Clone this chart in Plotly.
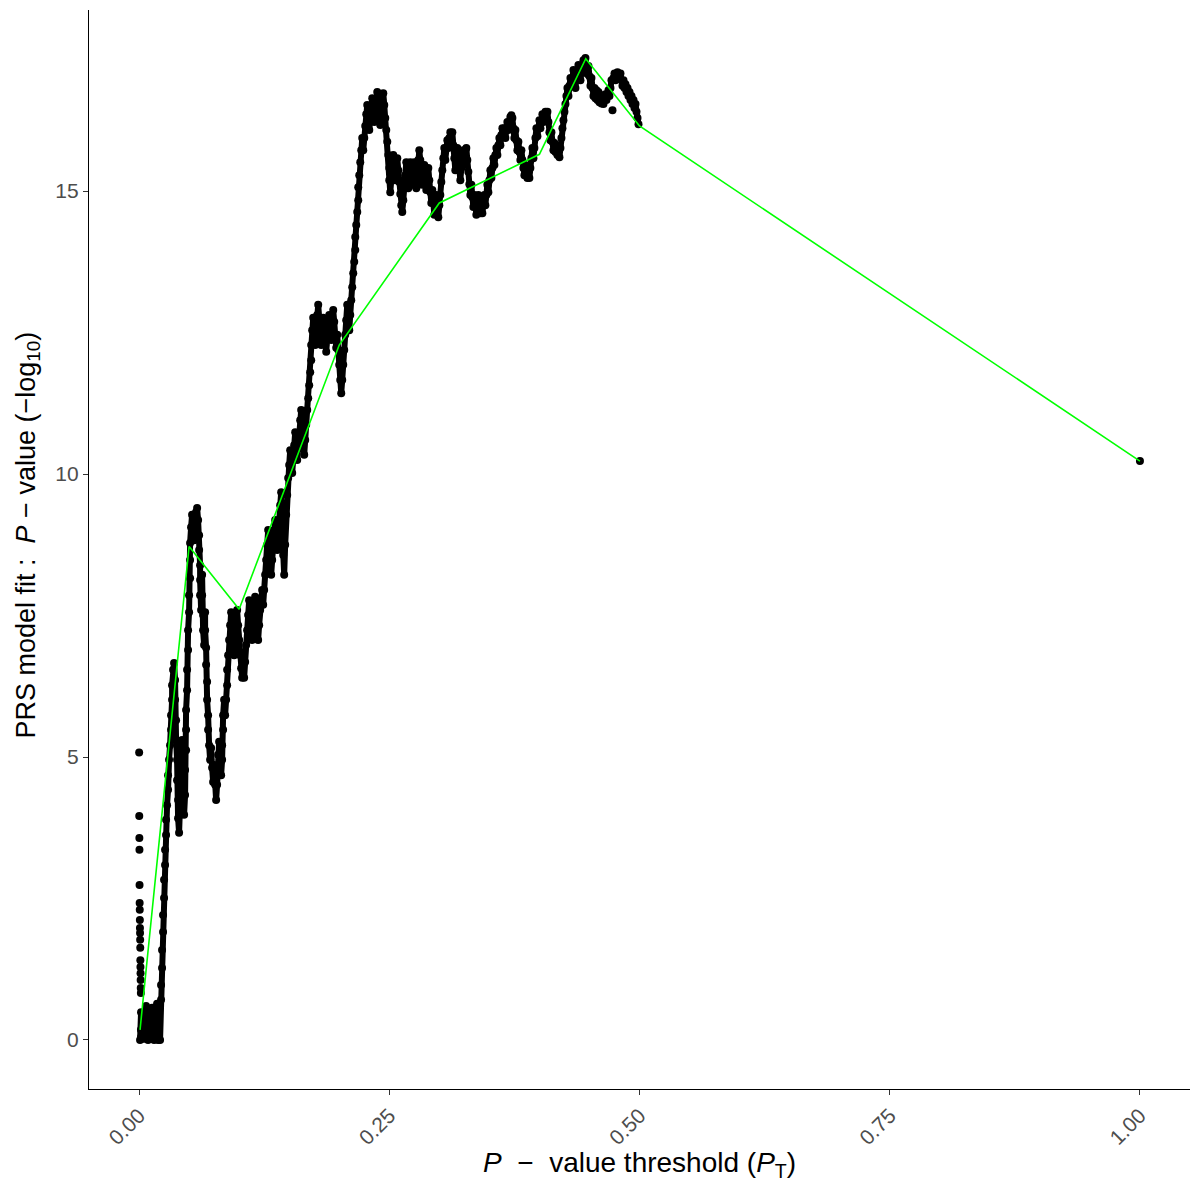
import plotly.graph_objects as go

# ---- high-resolution PRS scan (dense cloud) ----
cloud_x = [
    0.001, 0.002, 0.003, 0.005, 0.006, 0.007, 0.009, 0.010, 0.012, 0.013, 0.015, 0.016, 0.017, 0.018, 0.019, 0.020, 0.021, 0.022,
    0.022, 0.023, 0.023, 0.024, 0.024, 0.025, 0.025, 0.026, 0.026, 0.027, 0.027, 0.028, 0.029, 0.029, 0.030, 0.031, 0.032, 0.032, 0.033, 0.033, 0.034, 0.035,
    0.036, 0.036, 0.037, 0.037, 0.038, 0.038, 0.039, 0.039, 0.040, 0.041, 0.041, 0.042, 0.042, 0.043, 0.043, 0.044, 0.044, 0.045, 0.046, 0.046,
    0.047, 0.047, 0.047, 0.048, 0.048, 0.049, 0.049, 0.050, 0.050, 0.051, 0.051, 0.051, 0.052, 0.053, 0.054, 0.055, 0.056, 0.057, 0.058, 0.059,
    0.060, 0.060, 0.061, 0.061, 0.061, 0.062, 0.062, 0.063, 0.063, 0.064, 0.064, 0.065, 0.065, 0.066, 0.066, 0.067, 0.067, 0.068, 0.068, 0.069,
    0.069, 0.070, 0.071, 0.072, 0.073, 0.074, 0.075, 0.076, 0.077, 0.078, 0.079, 0.079, 0.080, 0.081, 0.082, 0.083, 0.083, 0.084, 0.084, 0.085,
    0.086, 0.087, 0.088, 0.088, 0.089, 0.090, 0.091, 0.092, 0.093, 0.094, 0.095, 0.096, 0.097, 0.098, 0.099, 0.100, 0.101, 0.102, 0.103, 0.104,
    0.105, 0.106, 0.107, 0.108, 0.109, 0.110, 0.111, 0.112, 0.113, 0.114, 0.115, 0.116, 0.117, 0.118, 0.119, 0.120, 0.121, 0.122, 0.123, 0.124,
    0.125, 0.126, 0.127, 0.128, 0.129, 0.130, 0.131, 0.132, 0.133, 0.134, 0.135, 0.136, 0.137, 0.138, 0.139, 0.140, 0.141, 0.142, 0.143, 0.144,
    0.145, 0.146, 0.147, 0.148, 0.149,
    0.150, 0.151, 0.152, 0.153, 0.154, 0.155, 0.156, 0.157, 0.158, 0.159, 0.160, 0.161, 0.162, 0.163, 0.164, 0.165, 0.166, 0.167, 0.168, 0.169,
    0.170, 0.171, 0.172, 0.172, 0.173, 0.174, 0.175, 0.176, 0.177, 0.178, 0.179, 0.180, 0.181, 0.182, 0.183, 0.184, 0.185, 0.186, 0.187, 0.188,
    0.189, 0.190, 0.191, 0.192, 0.193, 0.194, 0.195, 0.196, 0.197, 0.198, 0.199, 0.200, 0.201, 0.202, 0.203, 0.204, 0.205, 0.206, 0.207, 0.208,
    0.209, 0.210, 0.211, 0.212, 0.213, 0.214, 0.215, 0.216, 0.216, 0.217, 0.218, 0.219, 0.219, 0.220, 0.221, 0.222, 0.223, 0.224, 0.225, 0.226,
    0.227, 0.228, 0.229, 0.230, 0.231, 0.232, 0.233, 0.234, 0.235, 0.236, 0.237, 0.238, 0.239, 0.240, 0.241, 0.242, 0.243, 0.244, 0.245, 0.246,
    0.247, 0.248, 0.249, 0.250, 0.250, 0.251, 0.252, 0.253, 0.254, 0.255, 0.256, 0.257, 0.258, 0.259, 0.260, 0.261, 0.262, 0.263, 0.264, 0.265,
    0.266, 0.267, 0.268, 0.269, 0.270, 0.271, 0.272, 0.273, 0.274, 0.275, 0.276, 0.277, 0.278, 0.279, 0.280, 0.281, 0.282, 0.283, 0.284, 0.285,
    0.286, 0.287, 0.288, 0.289, 0.290, 0.291, 0.292, 0.293, 0.294, 0.295, 0.296, 0.297, 0.298, 0.299, 0.300, 0.301, 0.302, 0.303, 0.304, 0.305,
    0.306, 0.307, 0.308, 0.309, 0.310, 0.311, 0.312, 0.313, 0.314, 0.315, 0.316, 0.317, 0.318, 0.319, 0.320, 0.321, 0.322, 0.323, 0.324, 0.325,
    0.326, 0.327, 0.328, 0.329, 0.330, 0.331, 0.332, 0.333, 0.334, 0.335, 0.336, 0.337, 0.338, 0.339, 0.340, 0.341, 0.342, 0.343, 0.344, 0.345,
    0.346, 0.347, 0.348, 0.349, 0.350, 0.351, 0.352, 0.353, 0.354, 0.355, 0.356, 0.357, 0.358, 0.359, 0.360, 0.361, 0.362, 0.363, 0.364, 0.365,
    0.366, 0.367, 0.368, 0.369, 0.370, 0.371, 0.372, 0.373, 0.374, 0.375, 0.376, 0.377, 0.378, 0.379, 0.380, 0.381, 0.382, 0.383, 0.384, 0.385,
    0.386, 0.387, 0.388, 0.389, 0.390, 0.391, 0.392, 0.393, 0.394, 0.395, 0.396, 0.397, 0.398, 0.399, 0.400, 0.401, 0.402, 0.403, 0.404, 0.405,
    0.406, 0.407, 0.408, 0.409, 0.410, 0.411, 0.412, 0.413, 0.414, 0.415, 0.416, 0.417, 0.418, 0.419, 0.420, 0.421, 0.422, 0.423, 0.424, 0.425,
    0.426, 0.427, 0.428, 0.429, 0.430, 0.431, 0.432, 0.433, 0.434, 0.435, 0.436, 0.437, 0.438, 0.439, 0.440, 0.441, 0.442, 0.443, 0.444, 0.445,
    0.446, 0.447, 0.448, 0.449, 0.450, 0.451, 0.452, 0.453, 0.454, 0.455, 0.456, 0.457, 0.458, 0.459, 0.460, 0.461, 0.462, 0.463, 0.464, 0.465,
    0.466, 0.467, 0.468, 0.469, 0.470, 0.471, 0.472, 0.474, 0.475, 0.476, 0.477, 0.478, 0.479, 0.480, 0.481, 0.482, 0.483, 0.484, 0.485, 0.486,
    0.487, 0.488, 0.489, 0.490, 0.491, 0.492, 0.493, 0.494, 0.495, 0.496, 0.497, 0.498, 0.499,
]
cloud_y = [
    0.00, 0.49, 0.02, 0.39, 0.02, 0.60, 0.00, 0.44, 0.02, 0.57, 0.00, 0.35, 0.02, 0.64, 0.00, 0.53, 0.00, 0.71,
    0.97, 1.27, 1.59, 1.91, 2.21, 2.51, 2.83, 3.09, 3.36, 3.62, 3.89, 4.15, 4.42, 4.68, 4.95, 5.21, 5.48, 5.74, 6.01, 6.27, 6.54, 6.66,
    6.36, 6.01, 5.65, 5.30, 4.95, 4.59, 4.24, 3.92, 3.66, 3.98, 4.33, 4.68, 5.04, 5.30, 4.95, 4.59, 4.24, 3.98, 4.33, 4.77,
    5.12, 5.48, 5.83, 6.18, 6.54, 6.89, 7.24, 7.56, 7.86, 8.16, 8.48, 8.78, 9.06, 9.28, 9.10, 8.83, 9.10, 9.33, 9.40, 9.19,
    8.92, 8.66, 8.39, 8.13, 7.86, 7.60, 7.86, 8.22, 7.86, 7.51, 7.24, 6.98, 7.24, 7.56, 7.24, 6.93, 6.63, 6.33, 6.01, 5.74,
    5.48, 5.21, 4.95, 5.16, 4.81, 4.56, 4.86, 4.51, 4.24, 4.51, 4.77, 5.04, 5.27, 4.95, 4.68, 4.95, 5.21, 5.48, 5.74, 6.01,
    5.74, 6.01, 6.27, 6.54, 6.80, 7.07, 7.33, 7.56, 7.33, 7.07, 6.80, 7.07, 7.33, 7.60, 7.33, 7.07, 6.80, 6.57, 6.40, 6.63,
    6.40, 6.68, 6.98, 7.24, 7.51, 7.77, 7.56, 7.28, 7.07, 7.33, 7.60, 7.83, 7.56, 7.28, 7.07, 7.33, 7.60, 7.81, 7.95, 7.69,
    7.95, 8.22, 8.48, 8.75, 9.01, 8.75, 8.48, 8.22, 8.48, 8.75, 9.01, 9.19, 8.92, 8.66, 8.92, 9.19, 9.45, 9.68, 9.01, 8.57,
    8.22, 8.75, 9.28, 9.63, 9.93,
    10.16, 10.42, 10.16, 10.02, 10.25, 10.51, 10.74, 10.51, 10.25, 10.46, 10.69, 10.95, 11.13, 10.87, 10.60, 10.34, 10.60, 10.87, 11.13, 11.34,
    11.57, 11.80, 12.01, 12.28, 12.54, 12.76, 12.54, 12.28, 12.54, 12.81, 12.99, 12.76, 12.51, 12.28, 12.54, 12.76, 12.54, 12.28, 12.16, 12.40,
    12.63, 12.81, 12.58, 12.37, 12.63, 12.90, 12.69, 12.46, 12.23, 12.46, 12.19, 11.93, 11.66, 11.43, 11.66, 11.93, 12.19, 12.46, 12.72, 12.99,
    12.76, 12.54, 12.81, 13.07, 13.30, 13.55, 13.75, 13.96, 14.19, 14.40, 14.63, 14.84, 15.07, 15.28, 15.51, 15.72, 15.94, 15.72, 15.94, 16.15,
    16.36, 16.52, 16.29, 16.08, 16.25, 16.47, 16.64, 16.43, 16.22, 16.40, 16.61, 16.75, 16.61, 16.40, 16.17, 16.40, 16.61, 16.73, 16.52, 16.29,
    16.08, 15.87, 15.64, 15.41, 15.19, 14.98, 15.19, 15.41, 15.64, 15.41, 15.19, 15.37, 15.58, 15.37, 15.16, 14.95, 14.75, 14.63, 14.84, 15.05,
    15.28, 15.51, 15.28, 15.05, 15.28, 15.51, 15.28, 15.11, 15.34, 15.51, 15.28, 15.05, 15.28, 15.55, 15.72, 15.55, 15.34, 15.11, 15.28, 15.46,
    15.23, 15.02, 15.23, 15.41, 15.19, 14.98, 14.79, 15.02, 14.79, 14.58, 14.75, 14.93, 14.70, 14.54, 14.75, 14.93, 15.16, 15.37, 15.58, 15.76,
    15.55, 15.76, 15.90, 15.76, 15.94, 16.04, 15.90, 16.04, 15.81, 15.58, 15.37, 15.55, 15.76, 15.58, 15.37, 15.19, 15.41, 15.58, 15.72, 15.51,
    15.72, 15.76, 15.55, 15.34, 15.12, 14.93, 15.11, 14.89, 14.72, 14.93, 14.75, 14.58, 14.75, 14.93, 14.75, 14.61, 14.84, 14.61, 14.75, 14.93,
    14.75, 14.93, 15.11, 14.98, 15.19, 15.37, 15.23, 15.41, 15.58, 15.46, 15.64, 15.76, 15.64, 15.81, 15.94, 15.81, 15.99, 16.11, 15.99, 16.11,
    15.94, 16.11, 16.22, 16.08, 16.22, 16.31, 16.34, 16.29, 16.11, 15.94, 16.08, 15.90, 15.72, 15.87, 15.69, 15.55, 15.72, 15.55, 15.41, 15.28,
    15.46, 15.34, 15.23, 15.37, 15.23, 15.41, 15.58, 15.76, 15.58, 15.76, 15.94, 16.11, 15.97, 16.11, 16.25, 16.11, 16.25, 16.36, 16.22, 16.34,
    16.40, 16.25, 16.40, 16.22, 16.04, 15.90, 16.04, 15.87, 15.72, 15.85, 15.69, 15.81, 15.64, 15.72, 15.60, 15.76, 15.94, 16.11, 16.25, 16.40,
    16.54, 16.68, 16.82, 16.68, 16.86, 17.00, 16.86, 17.00, 17.14, 17.00, 16.82, 17.00, 17.14, 17.23, 17.10, 16.96, 17.10, 17.23, 17.31, 17.17,
    17.35, 17.21, 17.07, 17.21, 17.03, 16.86, 17.00, 16.82, 16.68, 16.82, 16.64, 16.78, 16.61, 16.75, 16.57, 16.70, 16.55, 16.68, 16.54, 16.64,
    16.71, 16.61, 16.68, 16.78, 16.68, 16.82, 16.96, 17.00, 17.08, 16.96, 17.05, 17.10, 17.00, 17.07, 17.08, 16.96, 16.86, 16.96, 16.82, 16.89,
    16.75, 16.82, 16.68, 16.75, 16.61, 16.68, 16.54, 16.61, 16.47, 16.54, 16.40, 16.29, 16.18,
]

# isolated points (smallest thresholds near 0, one stray point, and P_T = 1)
lone_x = [0.0001, 0.0002, 0.0003, 0.0004, 0.0005, 0.0006, 0.0007, 0.0008, 0.0009, 0.0010,
          0.0011, 0.0012, 0.0013, 0.0014, 0.0015, 0.0016, 0.0017, 0.0018, 0.0019, 0.0020,
          0.473, 1.0]
lone_y = [5.08, 3.96, 3.57, 3.36, 2.74, 2.42, 2.30, 2.12, 1.98, 1.89,
          1.77, 1.63, 1.41, 1.29, 1.18, 1.06, 0.92, 0.83, 0.18, 0.05,
          16.43, 10.23]

# ---- broad thresholds (green line) ----
bar_x = [0.001, 0.05, 0.1, 0.2, 0.3, 0.4, 0.4463, 0.5, 1.0]
bar_y = [0.18, 8.72, 7.61, 12.28, 14.79, 15.65, 17.34, 16.15, 10.23]

x_tickvals = [0, 0.25, 0.5, 0.75, 1.0]
x_ticktext = ["0.00", "0.25", "0.50", "0.75", "1.00"]
y_tickvals = [0, 5, 10, 15]
y_ticktext = ["0", "5", "10", "15"]

FONT = "Liberation Sans, Arial, sans-serif"

fig = go.Figure()
fig.add_trace(go.Scatter(
    x=cloud_x, y=cloud_y, mode="lines+markers",
    line=dict(color="black", width=6),
    marker=dict(color="black", size=8),
    hoverinfo="skip", showlegend=False,
))
fig.add_trace(go.Scatter(
    x=lone_x, y=lone_y, mode="markers",
    marker=dict(color="black", size=8),
    hoverinfo="skip", showlegend=False,
))
fig.add_trace(go.Scatter(
    x=bar_x, y=bar_y, mode="lines",
    line=dict(color="#00FF00", width=1.6),
    hoverinfo="skip", showlegend=False,
))

axis_common = dict(
    showgrid=False, zeroline=False, showline=True, linecolor="black", linewidth=1.3,
    ticks="outside", ticklen=5, tickwidth=1.2, tickcolor="#333333",
    tickfont=dict(family=FONT, size=21, color="#4D4D4D"),
)

# page body has an 8px offset, so the figure is sized 1192 and margins are shifted
fig.update_layout(
    width=1192, height=1192,
    margin=dict(l=81, r=10, t=2, b=111),
    paper_bgcolor="white", plot_bgcolor="white",
    xaxis=dict(range=[-0.05, 1.05], tickvals=x_tickvals, ticktext=x_ticktext,
               tickangle=-45, **axis_common),
    yaxis=dict(range=[-0.866, 18.2], tickvals=y_tickvals, ticktext=y_ticktext,
               **axis_common),
    font=dict(family=FONT),
    annotations=[
        dict(text="<i>P</i>  −  value threshold (<i>P</i><sub>T</sub>)",
             xref="paper", yref="paper", x=0.5, y=-0.07,
             xanchor="center", yanchor="middle", showarrow=False,
             font=dict(family=FONT, size=28, color="black")),
        dict(text="PRS model fit :  <i>P</i> − value (−log<sub>10</sub>)",
             xref="paper", yref="paper", x=-0.0554, y=0.513,
             xanchor="center", yanchor="middle", showarrow=False, textangle=-90,
             font=dict(family=FONT, size=27, color="black")),
    ],
)

fig.write_html("out.html")
